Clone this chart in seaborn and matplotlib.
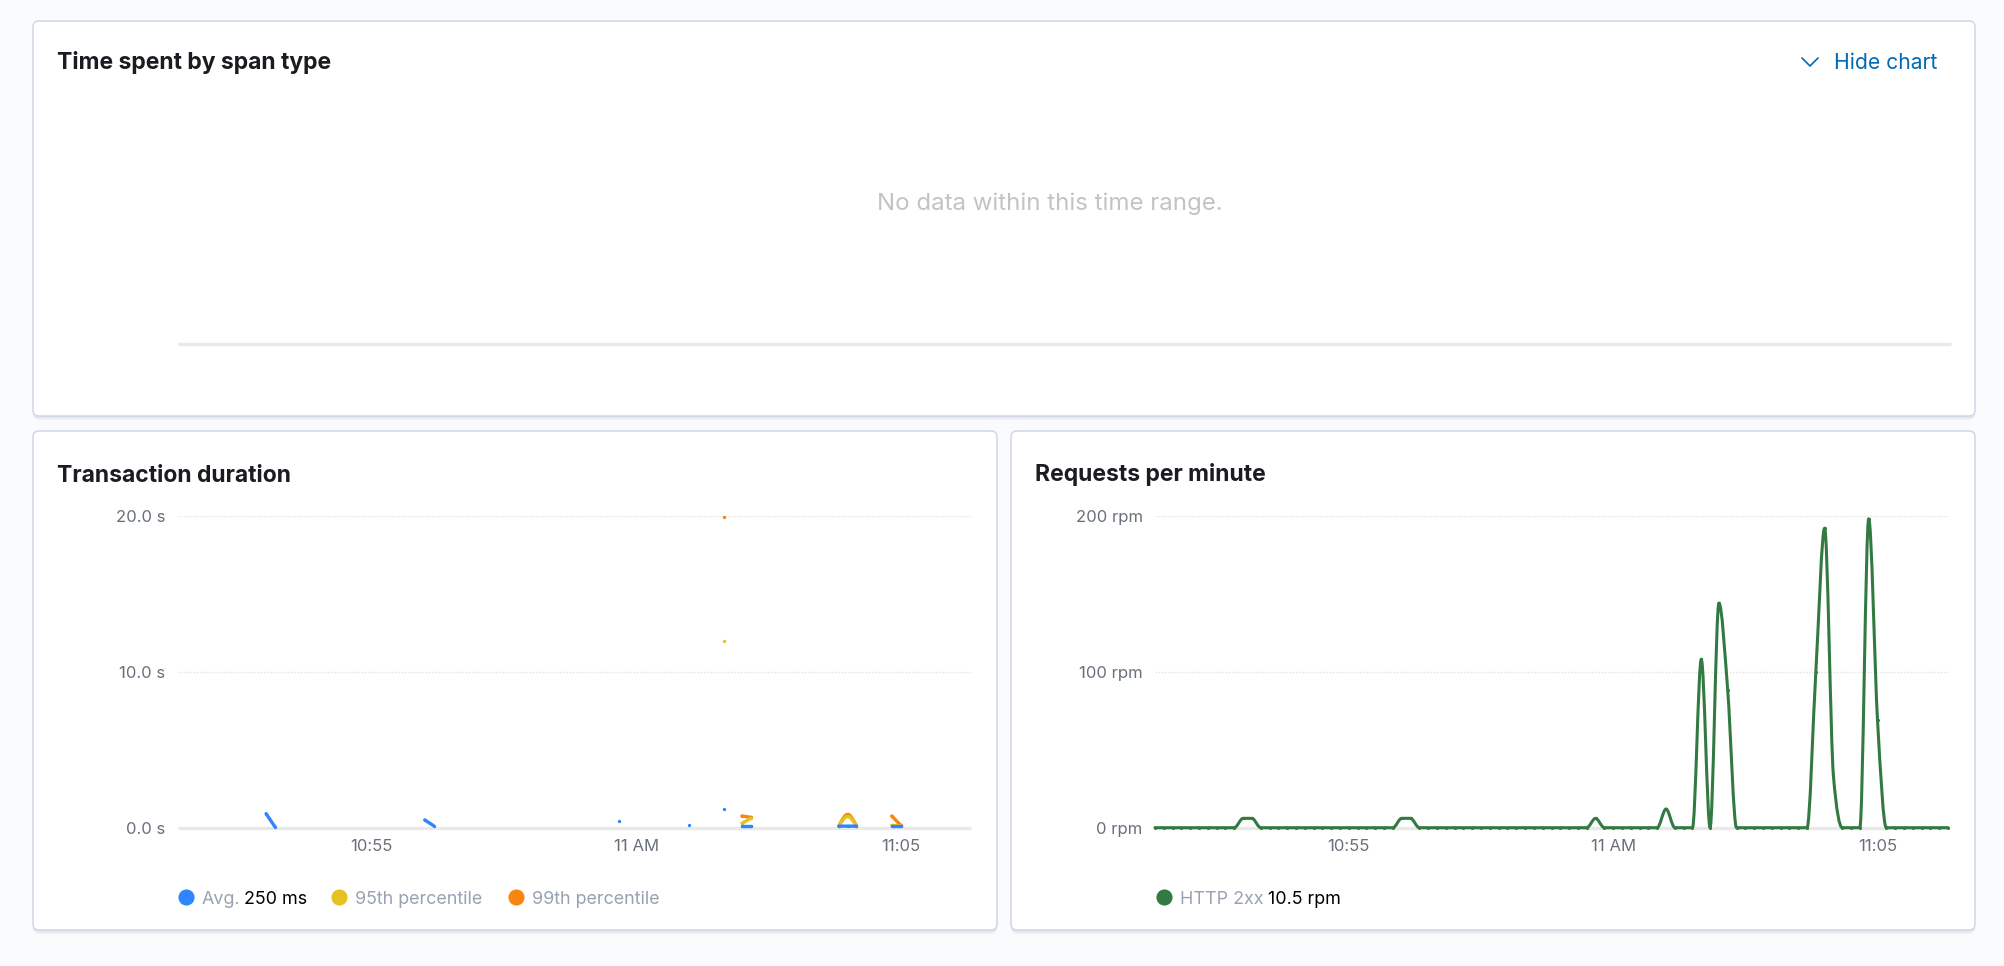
import numpy as np
import pandas as pd
import matplotlib
matplotlib.use("Agg")
import matplotlib.pyplot as plt
import seaborn as sns
from matplotlib.patches import FancyBboxPatch, PathPatch
from matplotlib.path import Path

W, H = 2004, 966
n = np.nan

# 10 s buckets, 10:51:20 -> 11:06:20
times = pd.date_range("2020-01-01 10:51:20", "2020-01-01 11:06:20", freq="10s")
tick_times = pd.to_datetime(["2020-01-01 10:55", "2020-01-01 11:00", "2020-01-01 11:05"])
tick_labels = ["10:55", "11 AM", "11:05"]

rpm_http2xx = [
    0, 0, 0, 0, 0, 0, 0, 0, 0, 0,
    6, 6, 0, 0, 0, 0, 0, 0, 0, 0,
    0, 0, 0, 0, 0, 0, 0, 0, 6, 6,
    0, 0, 0, 0, 0, 0, 0, 0, 0, 0,
    0, 0, 0, 0, 0, 0, 0, 0, 0, 0,
    6, 0, 0, 0, 0, 0, 0, 0, 12, 0,
    0, 0, 108, 0, 144, 88, 0, 0, 0, 0,
    0, 0, 0, 0, 0, 100, 192, 33, 0, 0,
    0, 198, 69, 0, 0, 0, 0, 0, 0, 0,
    0,
]
dur_avg = [
    n, n, n, n, n, n, n, n, n, n,
    0.9, 0.06, n, n, n, n, n, n, n, n,
    n, n, n, n, n, n, n, n, 0.5, 0.13,
    n, n, n, n, n, n, n, n, n, n,
    n, n, n, n, n, n, n, n, n, n,
    0.45, n, n, n, n, n, n, n, 0.15, n,
    n, n, 1.18, n, 0.1, 0.1, n, n, n, n,
    n, n, n, n, n, 0.1, 0.1, 0.1, n, n,
    n, 0.1, 0.1, n, n, n, n, n, n, n,
    n,
]
dur_p95 = [
    n, n, n, n, n, n, n, n, n, n,
    n, n, n, n, n, n, n, n, n, n,
    n, n, n, n, n, n, n, n, n, n,
    n, n, n, n, n, n, n, n, n, n,
    n, n, n, n, n, n, n, n, n, n,
    n, n, n, n, n, n, n, n, n, n,
    n, n, 12.0, n, 0.28, 0.6, n, n, n, n,
    n, n, n, n, n, 0.1, 0.72, 0.1, n, n,
    n, 0.15, 0.12, n, n, n, n, n, n, n,
    n,
]
dur_p99 = [
    n, n, n, n, n, n, n, n, n, n,
    n, n, n, n, n, n, n, n, n, n,
    n, n, n, n, n, n, n, n, n, n,
    n, n, n, n, n, n, n, n, n, n,
    n, n, n, n, n, n, n, n, n, n,
    n, n, n, n, n, n, n, n, n, n,
    n, n, 19.9, n, 0.75, 0.67, n, n, n, n,
    n, n, n, n, n, 0.1, 0.85, 0.1, n, n,
    n, 0.75, 0.17, n, n, n, n, n, n, n,
    n,
]

BLUE, YELLOW, ORANGE, GREEN = "#3185fc", "#e6c220", "#f98510", "#327a42"
TITLE, TICK, MUTED = "#1a1c21", "#69707d", "#98a2b3"

sns.set_theme(style="white")
plt.rcParams["font.family"] = ["Inter", "DejaVu Sans"]


def px_axes(fig, x0, y0, x1, y1):
    return fig.add_axes([x0 / W, 1 - y1 / H, (x1 - x0) / W, (y1 - y0) / H])


def panel(ax, x0, y0, x1, y1):
    # soft shadow under the card, then the card itself
    for dy, color in [(4, "#f0f2f8"), (2.5, "#e4e8f1"), (1, "#ccd5e5")]:
        ax.add_patch(FancyBboxPatch((x0, y0 + dy), x1 - x0, y1 - y0, boxstyle="round,pad=0,rounding_size=6",
                                    fc=color, ec="none"))
    ax.add_patch(FancyBboxPatch((x0, y0), x1 - x0, y1 - y0, boxstyle="round,pad=0,rounding_size=6",
                                fc="white", ec="#d3dae6", lw=1.2))


def monotone_path(x, y):
    # same curve the chart uses: cubic beziers with monotone tangents
    if len(x) == 2:
        return Path(np.column_stack([x, y]), [Path.MOVETO, Path.LINETO])
    h = np.diff(x)
    s = np.diff(y) / h
    t = np.zeros(len(x))
    for i in range(1, len(x) - 1):
        p = (s[i - 1] * h[i] + s[i] * h[i - 1]) / (h[i - 1] + h[i])
        t[i] = (np.sign(s[i - 1]) + np.sign(s[i])) * min(abs(s[i - 1]), abs(s[i]), 0.5 * abs(p))
    t[0] = (3 * s[0] - t[1]) / 2
    t[-1] = (3 * s[-1] - t[-2]) / 2
    verts = [(x[0], y[0])]
    codes = [Path.MOVETO]
    for i in range(len(h)):
        d = h[i] / 3
        verts += [(x[i] + d, y[i] + d * t[i]), (x[i + 1] - d, y[i + 1] - d * t[i + 1]), (x[i + 1], y[i + 1])]
        codes += [Path.CURVE4] * 3
    return Path(verts, codes)


def smooth_lines(ax, lw):
    for k, line in enumerate(ax.lines):
        xy = line.get_xydata()
        line.set_zorder(3 + k * 0.01)
        if len(xy) > 1:
            ax.add_patch(PathPatch(monotone_path(xy[:, 0], xy[:, 1]), fill=False, ec=line.get_color(), lw=lw,
                                   capstyle="round", joinstyle="round", clip_on=False, zorder=line.get_zorder()))
        line.set_linestyle("none")


def style_axes(ax, yticks, ylabels):
    ax.set_facecolor("none")
    ax.set_xlim(times[0], times[-1])
    ax.set_ylim(yticks[0], yticks[-1])
    ax.set_xticks(tick_times)
    ax.set_xticklabels(tick_labels)
    ax.set_yticks(yticks)
    ax.set_yticklabels(ylabels)
    ax.set_xlabel("")
    ax.set_ylabel("")
    ax.tick_params(axis="both", length=0, labelsize=12, labelcolor=TICK)
    ax.tick_params(axis="x", pad=8)
    ax.tick_params(axis="y", pad=9)
    ax.grid(False)
    ax.grid(axis="y", color="#e3e3e3", lw=1, ls=(0, (1, 1.2)))
    ax.set_axisbelow(True)
    for name, sp in ax.spines.items():
        sp.set_visible(name == "bottom")
    ax.spines["bottom"].set_color("#e9e9e9")
    ax.spines["bottom"].set_linewidth(2.4)
    ax.spines["bottom"].set_capstyle("butt")


fig = plt.figure(figsize=(W / 100, H / 100), dpi=100, facecolor="#fafbfd")

canvas = px_axes(fig, 0, 0, W, H)
canvas.set_xlim(0, W)
canvas.set_ylim(H, 0)
canvas.axis("off")

panel(canvas, 33, 21, 1975, 416)
panel(canvas, 33, 431, 997, 930)
panel(canvas, 1011, 431, 1975, 930)

for label, x, y in [("Time spent by span type", 57, 63), ("Transaction duration", 57, 476),
                    ("Requests per minute", 1035, 475)]:
    canvas.text(x, y, label, fontsize=16.5, fontweight="bold", color=TITLE, va="center")

canvas.text(1834, 63, "Hide chart", fontsize=15.2, color="#006bb4", va="center")
canvas.plot([1802, 1810, 1818], [58, 66, 58], color="#006bb4", lw=1.2)
canvas.text(1049.5, 203.5, "No data within this time range.", fontsize=17.3, color="#c2c3c6", ha="center", va="center")

# empty top chart, only the baseline
ax_top = px_axes(fig, 178, 250, 1951, 343.7)
ax_top.set_facecolor("none")
ax_top.set_xticks([])
ax_top.set_yticks([])
for name, sp in ax_top.spines.items():
    sp.set_visible(name == "bottom")
ax_top.spines["bottom"].set_color("#e9e9e9")
ax_top.spines["bottom"].set_linewidth(2.4)
ax_top.spines["bottom"].set_capstyle("butt")

# transaction duration
dur = pd.DataFrame({"time": times, "Avg.": dur_avg, "95th percentile": dur_p95, "99th percentile": dur_p99})
dur = dur.melt(id_vars="time", var_name="series", value_name="seconds")
dur["segment"] = dur.groupby("series")["seconds"].transform(lambda s: s.isna().cumsum())
dur = dur.dropna()

ax_dur = px_axes(fig, 178, 515.7, 971, 827.7)
sns.lineplot(data=dur, x="time", y="seconds", hue="series", units="segment", estimator=None, ax=ax_dur,
             hue_order=["99th percentile", "95th percentile", "Avg."],
             palette={"Avg.": BLUE, "95th percentile": YELLOW, "99th percentile": ORANGE},
             marker="o", markersize=2.4, markeredgewidth=0, sort=False, legend=False, clip_on=False)
smooth_lines(ax_dur, 2.4)
style_axes(ax_dur, [0, 10, 20], ["0.0 s", "10.0 s", "20.0 s"])

# requests per minute
rpm = pd.DataFrame({"time": times, "rpm": rpm_http2xx})
ax_rpm = px_axes(fig, 1155, 515.7, 1948, 827.7)
sns.lineplot(data=rpm, x="time", y="rpm", color=GREEN, ax=ax_rpm, marker="o", markersize=2.2,
             markeredgewidth=0, clip_on=False, legend=False)
smooth_lines(ax_rpm, 2.2)
style_axes(ax_rpm, [0, 100, 200], ["0 rpm", "100 rpm", "200 rpm"])

# legends
for x, color in [(186, BLUE), (339, YELLOW), (516, ORANGE), (1164, GREEN)]:
    canvas.scatter([x], [897], s=135, color=color, linewidths=0)
for x, label, color in [(202, "Avg.", MUTED), (244, "250 ms", "black"), (355.5, "95th percentile", MUTED),
                        (532, "99th percentile", MUTED), (1180, "HTTP 2xx", MUTED), (1268, "10.5 rpm", "black")]:
    canvas.text(x, 899.5, label, fontsize=12.9, color=color, va="center")

fig.savefig("out.png", dpi=100, facecolor=fig.get_facecolor())
